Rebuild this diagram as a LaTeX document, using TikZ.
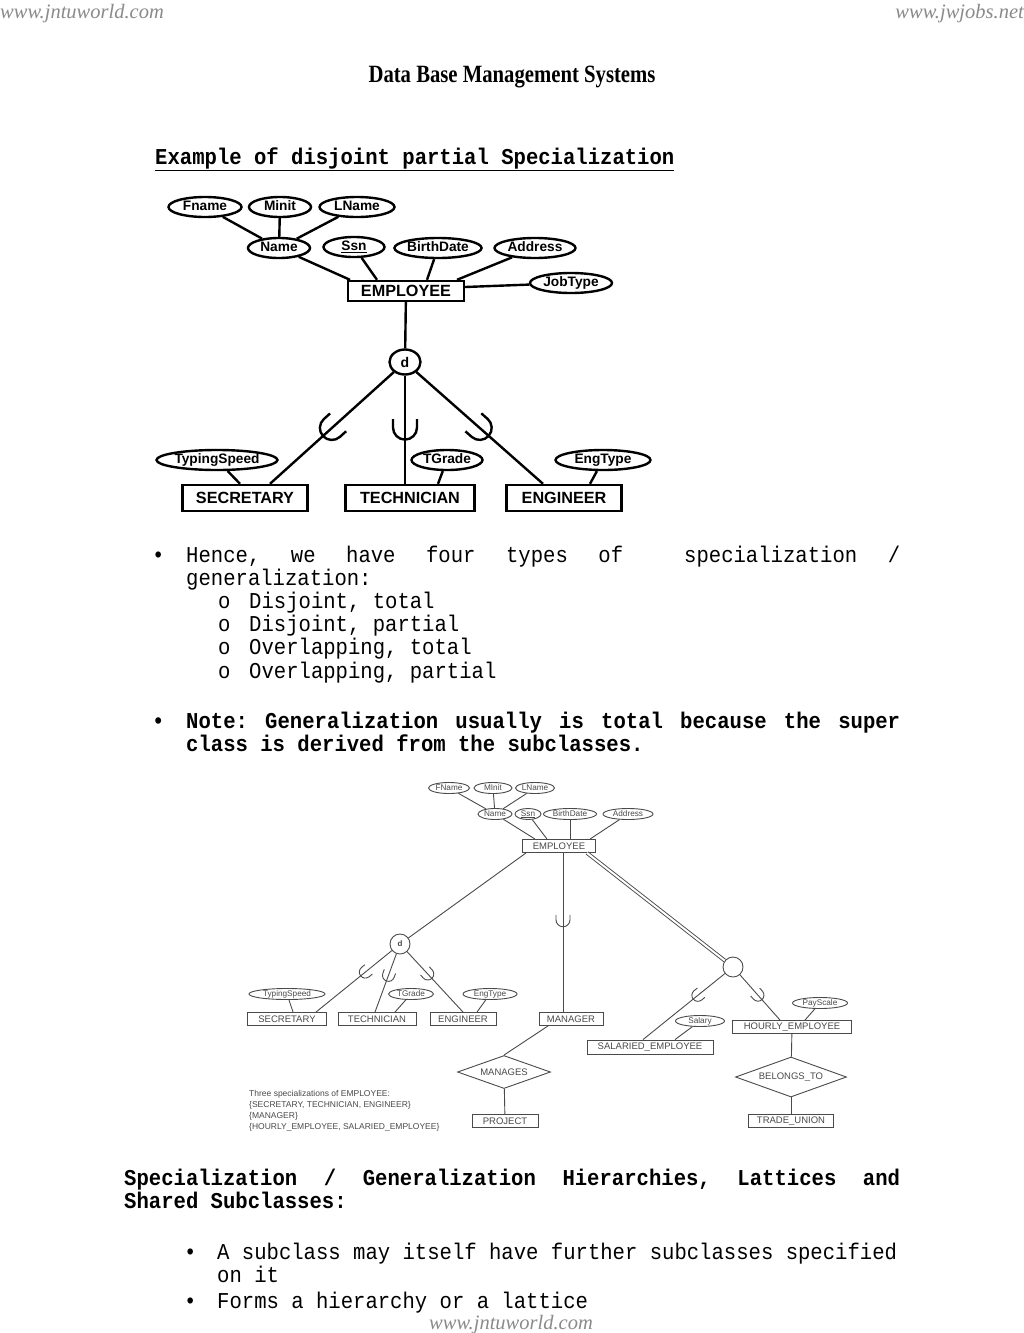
\documentclass[tikz,border=0pt]{standalone}
\usepackage{fontspec}
\setmainfont{Liberation Serif}
\setsansfont{Liberation Sans}
\setmonofont{Liberation Mono}
\usetikzlibrary{shapes.geometric}
\definecolor{urlgray}{HTML}{8A8A8A}
\definecolor{figgray}{HTML}{4A4A4A}
\newcommand{\vstretch}[1]{\scalebox{1}[1.1]{#1}}

\begin{document}
\begin{tikzpicture}[x=1pt, y=-1pt]
    \tikzset{entity/.style = {draw, rectangle, line width=2.4pt, inner sep=0pt, minimum height=26pt, font=\sffamily\bfseries\fontsize{16.2}{18}\selectfont}}
    \tikzset{attr/.style = {draw, ellipse, line width=2.4pt, inner sep=0pt, minimum height=20pt, text height=10pt, text depth=3pt, font=\sffamily\bfseries\fontsize{13.7}{15}\selectfont}}
    \tikzset{spec/.style = {draw, ellipse, line width=2.4pt, inner sep=0pt, minimum width=31pt, minimum height=25pt, font=\sffamily\bfseries\fontsize{14}{16}\selectfont}}
    \tikzset{edge/.style = {line width=2.4pt}}
    \tikzset{lentity/.style = {draw=figgray, rectangle, line width=0.9pt, inner sep=0pt, minimum height=13pt, text=figgray, font=\sffamily\fontsize{9.5}{11}\selectfont}}
    \tikzset{lattr/.style = {draw=figgray, ellipse, line width=0.9pt, inner sep=0pt, minimum height=11pt, text height=6pt, text depth=1.8pt, text=figgray, font=\sffamily\fontsize{8.2}{10}\selectfont}}
    \tikzset{lrel/.style = {draw=figgray, diamond, aspect=2.8, line width=0.9pt, inner sep=0pt, text=figgray, font=\sffamily\fontsize{9.5}{11}\selectfont}}
    \tikzset{lspec/.style = {draw=figgray, circle, line width=0.9pt, inner sep=0pt, minimum size=20pt, text=figgray, font=\sffamily\bfseries\fontsize{8}{9}\selectfont}}
    \tikzset{ledge/.style = {draw=figgray, line width=0.9pt}}
    \tikzset{bigcup/.style = {sloped, allow upside down, line width=2.4pt}}
    \tikzset{smallcup/.style = {sloped, allow upside down, figgray, line width=0.9pt}}
    \tikzset{subset/.pic = {\draw ({-0.7*#1},#1) -- (0pt,#1) arc[start angle=90, end angle=-90, radius=#1] -- ({-0.7*#1},{-#1});}}
    \tikzset{body/.style = {anchor=base west, inner sep=0pt, font=\ttfamily\fontsize{20.6}{23}\selectfont}}
    \tikzset{bodybold/.style = {body, font=\ttfamily\bfseries\fontsize{20.6}{23}\selectfont}}
    \tikzset{url/.style = {inner sep=0pt, text=urlgray, font=\itshape\fontsize{20.5}{22}\selectfont}}
    \fill[white] (0,0) rectangle (1024,1333);
    \useasboundingbox (0,0) rectangle (1024,1333);
    % page header
    \node[url, anchor=base west] (urlleft) at (0,18) {www.jntuworld.com};
    \node[url, anchor=base east] (urlright) at (1024,18) {www.jwjobs.net};
    \node[anchor=base, inner sep=0pt, font=\bfseries\fontsize{20.7}{24}\selectfont] (title) at (512,82) {\scalebox{1}[1.2]{Data Base Management Systems}};
    \node[bodybold] (example) at (155,164) {\vstretch{\underline{Example of disjoint partial Specialization}}};
    % attributes of the superclass
    \node[attr, minimum width=73] (fname) at (205,207) {Fname};
    \node[attr, minimum width=62] (minit) at (280,207) {Minit};
    \node[attr, minimum width=75] (lname) at (357,207) {LName};
    \node[attr, minimum width=62] (name) at (279,248) {Name};
    \node[attr, minimum width=61] (ssn) at (354,247) {\underline{Ssn}};
    \node[attr, minimum width=83] (birth) at (438,248) {BirthDate};
    \node[attr, minimum width=81] (addr) at (535,248) {Address};
    \node[attr, minimum width=82] (jobtype) at (571,283) {JobType};
    \node[entity, minimum width=116, minimum height=20] (emp) at (406,291) {EMPLOYEE};
    \node[spec] (disj) at (405,362) {d};
    % subclasses
    \node[entity, minimum width=125] (sec) at (245,498) {SECRETARY};
    \node[entity, minimum width=129] (tech) at (410,498) {TECHNICIAN};
    \node[entity, minimum width=115] (eng) at (564,498) {ENGINEER};
    \node[attr, minimum width=121] (typing) at (217,460) {TypingSpeed};
    \node[attr, minimum width=71] (tgrade) at (447,460) {TGrade};
    \node[attr, minimum width=95] (engtype) at (603,460) {EngType};
    % edges
    \draw[edge] (fname) -- (name);
    \draw[edge] (minit) -- (name);
    \draw[edge] (lname) -- (name);
    \draw[edge] (name) -- ([xshift=-56pt]emp.north);
    \draw[edge] (ssn) -- ([xshift=-29pt]emp.north);
    \draw[edge] (birth) -- ([xshift=21pt]emp.north);
    \draw[edge] (addr) -- ([xshift=51pt]emp.north);
    \draw[edge] ([yshift=4pt]emp.east) -- (jobtype);
    \draw[edge] (emp) -- (disj);
    \draw[edge] (disj) -- ([xshift=25pt]sec.north) pic[pos=0.5, bigcup]{subset=12pt};
    \draw[edge] (disj) -- (disj |- tech.north) pic[pos=0.48, bigcup]{subset=12pt};
    \draw[edge] (disj) -- ([xshift=-21pt]eng.north) pic[pos=0.5, bigcup]{subset=12pt};
    \draw[edge] (typing) -- ([xshift=-5pt]sec.north);
    \draw[edge] (tgrade) -- ([xshift=28pt]tech.north);
    \draw[edge] (engtype) -- ([xshift=26pt]eng.north);
    % text between the figures
    \node[body] (dot1) at (152,562) {\vstretch{\textbullet}};
    \node[body] (hence) at (186,562) {\vstretch{\hbox to 714pt{Hence,\hfill we\hfill have\hfill four\hfill types\hfill of\hfill\hfill specialization\hfill /}}};
    \node[body] (gen) at (186,585) {\vstretch{generalization:}};
    \foreach \kind [count=\i] in {{Disjoint, total}, {Disjoint, partial}, {Overlapping, total}, {Overlapping, partial}} {
        \node[body] (o\i) at (218, 585+23.3*\i) {\vstretch{o}};
        \node[body] (kind\i) at (249, 585+23.3*\i) {\vstretch{\kind}};
    }
    \node[bodybold] (dot2) at (152,728) {\vstretch{\textbullet}};
    \node[bodybold] (note) at (186,728) {\vstretch{\hbox to 714pt{Note:\hfill Generalization\hfill usually\hfill is\hfill total\hfill because\hfill the\hfill super}}};
    \node[bodybold] (note2) at (186,751) {\vstretch{class is derived from the subclasses.}};
    % second figure: attributes
    \node[lattr, minimum width=41] (fname2) at (449,788) {FName};
    \node[lattr, minimum width=38] (minit2) at (493,788) {MInit};
    \node[lattr, minimum width=39] (lname2) at (535,788) {LName};
    \node[lattr, minimum width=34] (name2) at (495,814) {Name};
    \node[lattr, minimum width=26] (ssn2) at (528,814) {\underline{Ssn}};
    \node[lattr, minimum width=53] (birth2) at (570,814) {BirthDate};
    \node[lattr, minimum width=50] (addr2) at (628,814) {Address};
    \node[lentity, minimum width=73] (emp2) at (559,846) {EMPLOYEE};
    % second figure: specializations
    \node[lspec] (disj2) at (400,944) {d};
    \node[lspec] (ovl2) at (733,967) {};
    \node[lentity, minimum width=79] (sec2) at (287,1019) {SECRETARY};
    \node[lentity, minimum width=78] (tech2) at (377,1019) {TECHNICIAN};
    \node[lentity, minimum width=66] (eng2) at (463,1019) {ENGINEER};
    \node[lentity, minimum width=64] (mgr2) at (571,1019) {MANAGER};
    \node[lattr, minimum width=76] (typing2) at (287,994) {TypingSpeed};
    \node[lattr, minimum width=45] (tgrade2) at (411,994) {TGrade};
    \node[lattr, minimum width=54] (engtype2) at (490,994) {EngType};
    \node[lentity, minimum width=126, minimum height=14] (sal2) at (650,1047) {SALARIED\_EMPLOYEE};
    \node[lentity, minimum width=119] (hourly2) at (792,1027) {HOURLY\_EMPLOYEE};
    \node[lattr, minimum width=49] (salary2) at (700,1021) {Salary};
    \node[lattr, minimum width=55] (payscale2) at (820,1003) {PayScale};
    \node[lrel, minimum width=93, minimum height=33] (manages) at (504,1072) {MANAGES};
    \node[lentity, minimum width=66] (project) at (505,1121) {PROJECT};
    \node[lrel, minimum width=111, minimum height=40] (belongs) at (791,1077) {BELONGS\_TO};
    \node[lentity, minimum width=85] (trade) at (791,1121) {TRADE\_UNION};
    \node[anchor=north west, align=left, inner sep=0pt, text=figgray, font=\sffamily\fontsize{8.5}{11}\selectfont] (legend) at (249,1090) {Three specializations of EMPLOYEE:\\ \{SECRETARY, TECHNICIAN, ENGINEER\}\\ \{MANAGER\}\\ \{HOURLY\_EMPLOYEE, SALARIED\_EMPLOYEE\}};
    % second figure: edges
    \draw[ledge] (fname2) -- (name2);
    \draw[ledge] (minit2) -- (name2);
    \draw[ledge] (lname2) -- (name2);
    \draw[ledge] (name2) -- ([xshift=-24pt]emp2.north);
    \draw[ledge] (ssn2) -- ([xshift=-12pt]emp2.north);
    \draw[ledge] (birth2) -- (birth2 |- emp2.north);
    \draw[ledge] (addr2) -- ([xshift=31pt]emp2.north);
    \draw[ledge] ([xshift=-33pt]emp2.south) -- (disj2);
    \draw[ledge] ([xshift=4pt]emp2.south) -- ([xshift=-8pt]mgr2.north) pic[pos=0.42, smallcup]{subset=7pt};
    \draw[ledge, double, double distance=2pt] ([xshift=28pt]emp2.south) -- (ovl2);
    \draw[ledge] (disj2) -- ([xshift=29pt]sec2.north) pic[pos=0.35, smallcup]{subset=6pt};
    \draw[ledge] (disj2) -- ([xshift=-2pt]tech2.north) pic[pos=0.37, smallcup]{subset=6pt};
    \draw[ledge] (disj2) -- (eng2.north) pic[pos=0.37, smallcup]{subset=6pt};
    \draw[ledge] (typing2) -- ([xshift=6pt]sec2.north);
    \draw[ledge] (tgrade2) -- ([xshift=18pt]tech2.north);
    \draw[ledge] (engtype2) -- ([xshift=14pt]eng2.north);
    \draw[ledge] (ovl2) -- ([xshift=-7pt]sal2.north) pic[pos=0.33, smallcup]{subset=6pt};
    \draw[ledge] (ovl2) -- ([xshift=-12pt]hourly2.north) pic[pos=0.45, smallcup]{subset=6pt};
    \draw[ledge] (salary2) -- ([xshift=25pt]sal2.north);
    \draw[ledge] (payscale2) -- ([xshift=13pt]hourly2.north);
    \draw[ledge] ([xshift=-23pt]mgr2.south) -- (manages.north);
    \draw[ledge] (manages) -- (project);
    \draw[ledge] (hourly2) -- (belongs);
    \draw[ledge] (belongs) -- (trade);
    % closing text
    \node[bodybold] (head) at (124,1185) {\vstretch{\hbox to 776pt{Specialization\hfill /\hfill Generalization\hfill Hierarchies,\hfill Lattices\hfill and}}};
    \node[bodybold] (head2) at (124,1208) {\vstretch{Shared Subclasses:}};
    \node[body] (dot3) at (184,1259) {\vstretch{\textbullet}};
    \node[body] (sub1) at (217,1259) {\vstretch{A subclass may itself have further subclasses specified}};
    \node[body] (sub1b) at (217,1282) {\vstretch{on it}};
    \node[body] (dot4) at (184,1308) {\vstretch{\textbullet}};
    \node[body] (sub2) at (217,1308) {\vstretch{Forms a hierarchy or a lattice}};
    \node[url, anchor=base] (urlfoot) at (511,1329) {www.jntuworld.com};
\end{tikzpicture}
\end{document}
